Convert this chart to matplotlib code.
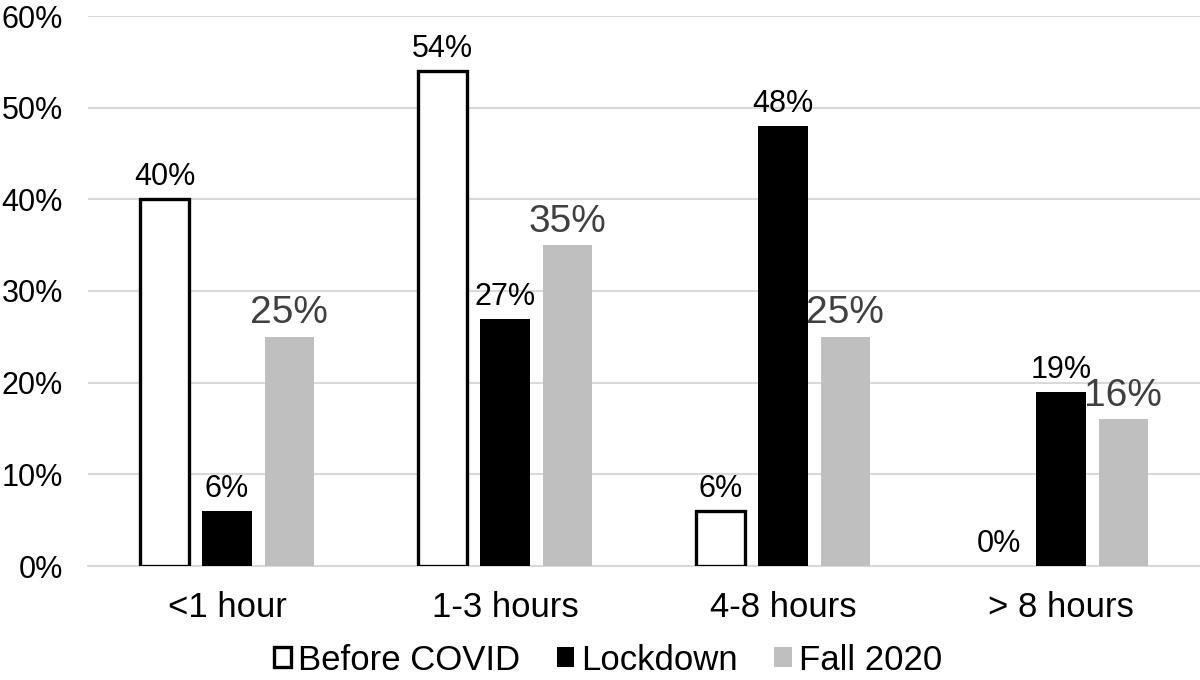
import numpy as np
import matplotlib.pyplot as plt
from matplotlib.patches import Patch

plt.rcParams['font.family'] = ['Liberation Sans', 'DejaVu Sans']

categories = ['<1 hour', '1-3 hours', '4-8 hours', '> 8 hours']
before = [40, 54, 6, 0]
lockdown = [6, 27, 48, 19]
fall = [25, 35, 25, 16]

fig = plt.figure(figsize=(12, 6.8), dpi=100)
ax = fig.add_axes([88/1200, 1 - 566/680, 1 - 88/1200, (566 - 16)/680])

x = np.arange(len(categories))
w = 0.177
off = 0.224

# no outline for zero-height bars
lw = [2.4 if v > 0 else 0 for v in before]
ax.bar(x - off, before, w, facecolor='white', edgecolor='black', linewidth=lw, zorder=3)
ax.bar(x, lockdown, w, color='black', zorder=3)
ax.bar(x + off, fall, w, color='#bfbfbf', zorder=3)

for i in range(len(x)):
    ax.annotate('%d%%' % before[i], (x[i] - off, before[i]), xytext=(0, 5), textcoords='offset points',
                ha='center', va='bottom', fontsize=22, color='black')
    ax.annotate('%d%%' % lockdown[i], (x[i], lockdown[i]), xytext=(0, 5), textcoords='offset points',
                ha='center', va='bottom', fontsize=22, color='black')
    ax.annotate('%d%%' % fall[i], (x[i] + off, fall[i]), xytext=(0, 4), textcoords='offset points',
                ha='center', va='bottom', fontsize=28, color='#404040')

ax.set_xlim(-0.5, 3.5)
ax.set_ylim(0, 60)
ax.set_yticks(np.arange(0, 61, 10))
ax.set_yticklabels(['%d%%' % v for v in range(0, 61, 10)])
ax.yaxis.grid(True, color='#d9d9d9', linewidth=1.5, zorder=0)
ax.set_xticks(x)
ax.set_xticklabels(categories)
ax.tick_params(axis='y', length=0, labelsize=22, colors='black', pad=18)
ax.tick_params(axis='x', length=0, labelsize=25, colors='black', pad=18)
for s in ['top', 'right', 'left']:
    ax.spines[s].set_visible(False)
ax.spines['bottom'].set_color('#d9d9d9')
ax.spines['bottom'].set_linewidth(1.5)

handles = [Patch(facecolor='white', edgecolor='black', linewidth=2.4),
           Patch(facecolor='black'),
           Patch(facecolor='#bfbfbf')]
fig.legend(handles, ['Before COVID', 'Lockdown', 'Fall 2020'], loc='center',
           bbox_to_anchor=(608/1200, 1 - 660/680), ncol=3, frameon=False, fontsize=25,
           handlelength=0.5, handleheight=0.5, handletextpad=0.2, columnspacing=1.05)

fig.savefig('out.png', dpi=100)
